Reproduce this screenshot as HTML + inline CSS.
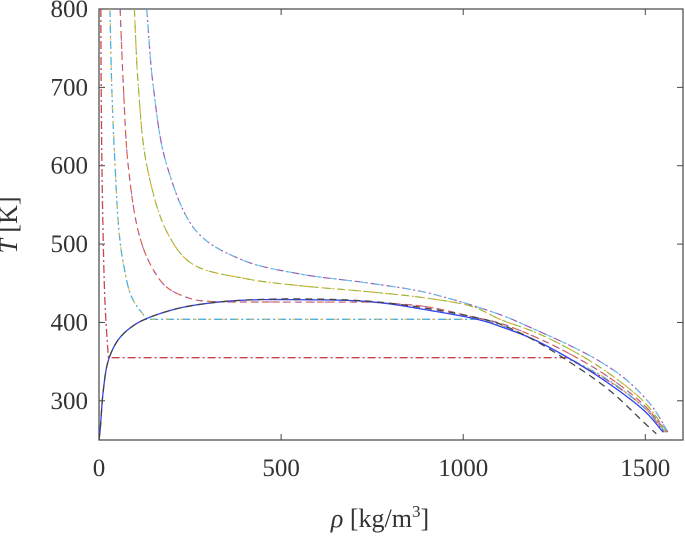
<!DOCTYPE html>
<html><head><meta charset="utf-8"><style>
body{margin:0;background:#fff}
svg{display:block}
text{font-family:"Liberation Serif",serif;fill:#333}
</style></head><body>
<svg id="chart" width="685" height="536">
<defs><clipPath id="clip"><rect x="99" y="9" width="584" height="431"/></clipPath></defs>
<rect x="99" y="9" width="584" height="431" fill="#fff" stroke="#444" stroke-width="1.2"/>
<g id="ticks"></g>
<g id="series" clip-path="url(#clip)"></g>
<text x="17" y="225" font-size="26" text-anchor="middle" transform="rotate(-90 17 225)"><tspan font-style="italic">T</tspan> [K]</text>
<text x="380" y="527" font-size="26" text-anchor="middle"><tspan font-style="italic">ρ</tspan> [kg/m<tspan font-size="17" dy="-10">3</tspan><tspan dy="10">]</tspan></text>
</svg>
<script>
const xTicks=[0,500,1000,1500];
const yTicks=[300,400,500,600,700,800];
const domeRho=[0,3,12,26,53,90,131,218,309,401,550,744,900,1047,1101,1190,1284,1400,1500,1549];
const domeT=[250,262,314,352,378,394.5,405,418,425,428.5,429,426.5,416,403,395,379,356,322,286,260];
const blackRho=[0,3,12,26,53,90,131,218,309,401,550,744,900,1047,1101,1200,1284,1400,1504,1530];
const blackT=[250,262,314,352,378,394.5,405,418,425,428.5,430,427,418,405,398,376,352,314,269,258];
const aRho=[5,6,8,11,16,22,26,1284,1400,1500,1552];
const aT=[800,701,600,518,430,380,355,355,325,290,260];
const bRho=[30,35,44,55,67,90,131,1050,1101,1200,1284,1400,1500,1555];
const bT=[800,701,601,516,475,432,404,404,397,377,356,326,290,260];
const cRho=[58,67,80,108,140,186,255,300,500,744,900,1027,1101,1200,1300,1400,1500,1558];
const cT=[800,701,601,516,475,445,430,427,426,426,420,407,399,381,358,330,293,260];
const dRho=[97,108,131,186,255,401,550,744,900,1027,1101,1200,1300,1400,1500,1560];
const dT=[800,701,601,516,475,456,447,439,431,420,404,387,364,335,297,260];
const eRho=[131,149,186,268,392,550,744,900,1101,1192,1300,1376,1450,1520,1562];
const eT=[800,701,601,516,480,462,450,438,410,392,369,350,326,292,260];

const X=v=>99+v*0.3642;
const Y=v=>9+(800-v)*0.7836;
const NS='http://www.w3.org/2000/svg';
const tg=document.getElementById('ticks');
xTicks.forEach(t=>{
  const l=document.createElementNS(NS,'line');
  l.setAttribute('x1',X(t));l.setAttribute('x2',X(t));l.setAttribute('y1',440);l.setAttribute('y2',434);
  l.setAttribute('stroke','#444');
  
  
  tg.appendChild(l);
  const l2=l.cloneNode();l2.setAttribute('y1',9);l2.setAttribute('y2',15);tg.appendChild(l2);
  const tx=document.createElementNS(NS,'text');
  tx.setAttribute('x',X(t));tx.setAttribute('y',476);tx.setAttribute('font-size','25');tx.setAttribute('text-anchor','middle');
  
  
  tx.textContent=t;tg.appendChild(tx);
});
yTicks.forEach(t=>{
  const l=document.createElementNS(NS,'line');
  l.setAttribute('x1',99);l.setAttribute('x2',105);l.setAttribute('y1',Y(t));l.setAttribute('y2',Y(t));
  l.setAttribute('stroke','#444');
  
  
  tg.appendChild(l);
  const l2=l.cloneNode();l2.setAttribute('x1',683);l2.setAttribute('x2',677);tg.appendChild(l2);
  const tx=document.createElementNS(NS,'text');
  tx.setAttribute('x',88);tx.setAttribute('y',Y(t)+8);tx.setAttribute('font-size','25');tx.setAttribute('text-anchor','end');
  
  
  tx.textContent=t;tg.appendChild(tx);
});
// centripetal Catmull-Rom on a run of pixel points (returns L commands after first point)
function crRun(P){
  const n=P.length;let d='';
  if(n<2)return d;
  if(n===2)return ' L'+P[1][0].toFixed(2)+' '+P[1][1].toFixed(2);
  const ext=[[2*P[0][0]-P[1][0],2*P[0][1]-P[1][1]],...P,[2*P[n-1][0]-P[n-2][0],2*P[n-1][1]-P[n-2][1]]];
  const dist=(a,b)=>Math.max(1e-4,Math.pow(Math.hypot(b[0]-a[0],b[1]-a[1]),0.5));
  for(let i=1;i<ext.length-2;i++){
    const p0=ext[i-1],p1=ext[i],p2=ext[i+1],p3=ext[i+2];
    const t0=0,t1=t0+dist(p0,p1),t2=t1+dist(p1,p2),t3=t2+dist(p2,p3);
    for(let k=1;k<=24;k++){
      const t=t1+(t2-t1)*k/24;
      const L=(a,b,ta,tb)=>[a[0]*(tb-t)/(tb-ta)+b[0]*(t-ta)/(tb-ta),a[1]*(tb-t)/(tb-ta)+b[1]*(t-ta)/(tb-ta)];
      const A1=L(p0,p1,t0,t1),A2=L(p1,p2,t1,t2),A3=L(p2,p3,t2,t3);
      const B1=L(A1,A2,t0,t2),B2=L(A2,A3,t1,t3);
      const C=L(B1,B2,t1,t2);
      d+=' L'+C[0].toFixed(2)+' '+C[1].toFixed(2);
    }
  }
  return d;
}
function crPath(xs,ys){
  const P=xs.map((x,i)=>[X(x),Y(ys[i])]);
  let d='M'+P[0][0].toFixed(2)+' '+P[0][1].toFixed(2);
  let run=[P[0]];
  for(let i=0;i<P.length-1;i++){
    if(ys[i]===ys[i+1]){ // flat two-phase segment: straight line, break spline
      d+=crRun(run);
      d+=' L'+P[i+1][0].toFixed(2)+' '+P[i+1][1].toFixed(2);
      run=[P[i+1]];
    } else run.push(P[i+1]);
  }
  d+=crRun(run);
  return d;
}
const sg=document.getElementById('series');
function draw(xs,ys,col,dash,w,name){
  const p=document.createElementNS(NS,'path');
  p.setAttribute('d',crPath(xs,ys));p.setAttribute('fill','none');p.setAttribute('stroke',col);
  p.setAttribute('stroke-width',w);if(dash)p.setAttribute('stroke-dasharray',dash);
  
  
  sg.appendChild(p);
}
draw(aRho,aT,'#c8474f','8 3 2 3',1.3,'isobar-1');
draw(bRho,bT,'#4db0dd','8 3 2 3',1.3,'isobar-2');
draw(bRho,bT,'#e8b840','3 11',1.0,'isobar-2-alt');
draw(cRho,cT,'#d9604a','7 4',1.2,'isobar-3');
draw(cRho,cT,'#a55bb5','4 10',1.0,'isobar-3-alt');
draw(dRho,dT,'#e0b030','8 3 2 3',1.2,'isobar-4');
draw(dRho,dT,'#90b840','7 6',1.0,'isobar-4-alt');
draw(eRho,eT,'#9a5bb5','8 3 2 3',1.2,'isobar-5');
draw(eRho,eT,'#5cc4ee','7 8',1.0,'isobar-5-alt');
draw(domeRho,domeT,'#3344ee','',1.3,'saturation-dome');
draw(blackRho,blackT,'#444','7 5',1.3,'reference-dome');
</script>
</body></html>
